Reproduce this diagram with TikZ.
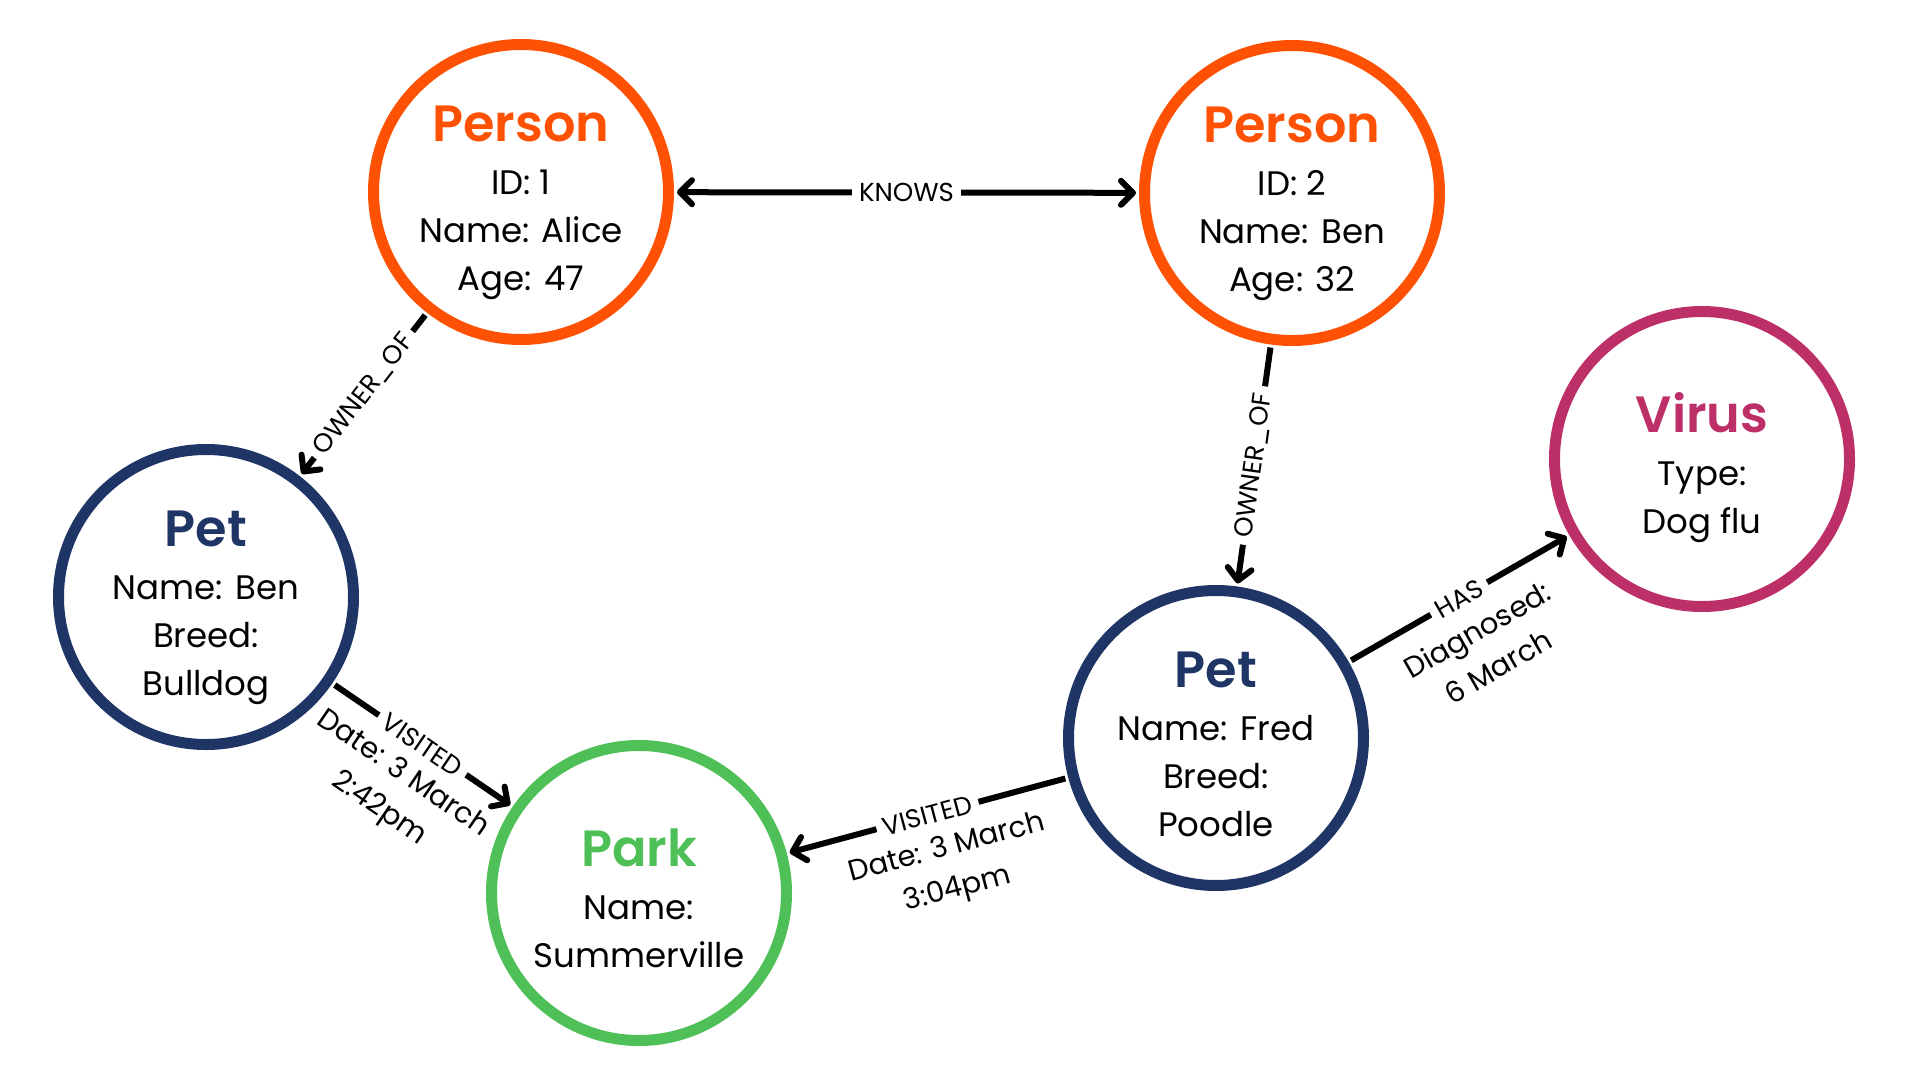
\documentclass[tikz,border=0pt]{standalone}
\usepackage{fontspec}
\setmainfont{Poppins}
\newfontfamily\titlefont{Poppins SemiBold}
\usepackage{tikz}
\usetikzlibrary{arrows.meta}
\definecolor{personcol}{HTML}{FF5103}
\definecolor{petcol}{HTML}{1F3566}
\definecolor{parkcol}{HTML}{4FBF58}
\definecolor{viruscol}{HTML}{BD2F67}
\newcommand{\heading}[2]{\rule{0pt}{47pt}\textcolor{#1}{\fontsize{51}{51}\selectfont\titlefont #2}}
\tikzstyle{entity}=[circle, draw, line width=11pt, minimum size=295pt, inner sep=0pt, outer sep=8.5pt, align=center, text depth=0pt, font=\fontsize{34}{48}\selectfont]
\tikzstyle{person}=[entity, draw=personcol]
\tikzstyle{pet}=[entity, draw=petcol]
\tikzstyle{park}=[entity, draw=parkcol]
\tikzstyle{virus}=[entity, draw=viruscol]
\tikzstyle{rel}=[line width=6pt, -{Straight Barb[length=12pt,width=24pt,round]}]
\tikzstyle{birel}=[rel, {Straight Barb[length=12pt,width=24pt,round]}-{Straight Barb[length=12pt,width=24pt,round]}]
\tikzstyle{lbl}=[fill=white, sloped, inner xsep=7pt, inner ysep=2pt, font=\fontsize{26}{26}\selectfont]
\tikzstyle{prop}=[sloped, inner sep=0pt, align=center, font=\fontsize{29}{42}\selectfont]

\begin{document}
\begin{tikzpicture}[x=1pt, y=-1pt]
        \useasboundingbox (0, 0) rectangle (1920, 1080);
        \node[person] (P1) at (521, 192) {\heading{personcol}{Person}\\[5pt] ID: 1\\ Name: Alice\\ Age: 47};
        \node[person] (P2) at (1292, 193) {\heading{personcol}{Person}\\[5pt] ID: 2\\ Name: Ben\\ Age: 32};
        \node[pet] (Pet1) at (206, 597) {\heading{petcol}{Pet}\\[5pt] Name: Ben\\ Breed:\\ Bulldog};
        \node[pet] (Pet2) at (1216, 738) {\heading{petcol}{Pet}\\[5pt] Name: Fred\\ Breed:\\ Poodle};
        \node[park] (Park) at (639, 893) {\heading{parkcol}{Park}\\[5pt] Name:\\ Summerville};
        \node[virus] (Virus) at (1702, 459) {\heading{viruscol}{Virus}\\[5pt] Type:\\ Dog flu};
        \draw[birel] (P1) -- node[lbl] {KNOWS} (P2);
        \draw[rel] (P1) -- node[lbl] {OWNER\_OF} (Pet1);
        \draw[rel] (P2) -- node[lbl] {OWNER\_OF} (Pet2);
        \draw[rel] (Pet2) -- node[lbl] {HAS} node[prop, below=22pt] {Diagnosed:\\ 6 March} (Virus);
        \draw[rel] (Pet1) -- node[lbl] {VISITED} node[prop, below=18pt] {Date: 3 March\\ 2:42pm} (Park);
        \draw[rel] (Pet2) -- node[lbl] {VISITED} node[prop, below=20pt, xshift=10pt] {Date: 3 March\\ 3:04pm} (Park);
    \end{tikzpicture}
\end{document}
